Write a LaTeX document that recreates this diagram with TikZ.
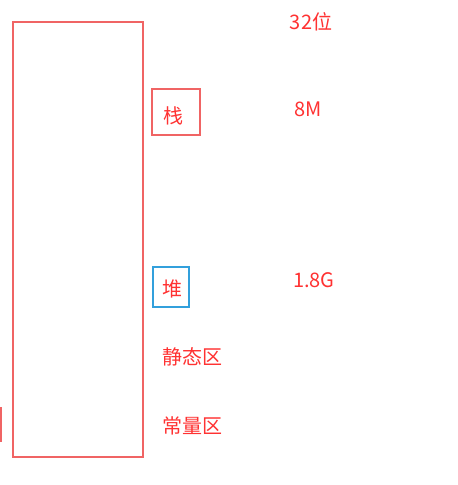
\documentclass[tikz,border=0pt]{standalone}
\usepackage{fontspec}
\setmainfont{Noto Sans CJK SC}
\definecolor{txtred}{RGB}{255,50,50}
\definecolor{boxred}{RGB}{240,100,100}
\definecolor{boxblue}{RGB}{50,160,220}
\begin{document}
\begin{tikzpicture}[x=0.75pt,y=-0.75pt,
  lbl/.style={text=txtred,font=\fontsize{15pt}{17pt}\selectfont,inner sep=0pt,anchor=center},
  redframe/.style={draw=boxred,line width=0.8pt,inner sep=0pt},
  blueframe/.style={draw=boxblue,line width=0.8pt,inner sep=0pt},
]
\useasboundingbox (0,0) rectangle (457,485);
\fill[white] (0,0) rectangle (457,485);
% memory column
\node[redframe,minimum width=97.5pt,minimum height=326.25pt] (mem) at (78,239.5) {};
% partial box at the left edge
\begin{scope}
\clip (0,0) rectangle (457,485);
\node[redframe,minimum width=15pt,minimum height=24.75pt] (side) at (-9,424.5) {};
\end{scope}
% stack
\node[redframe,minimum width=36pt,minimum height=34.5pt] (stackbox) at (176,112) {};
\node[lbl] (stack) at (173,116) {栈};
% heap
\node[blueframe,minimum width=27pt,minimum height=30pt] (heapbox) at (171,287) {};
\node[lbl] (heap) at (172,289) {堆};
\node[lbl] (static) at (192.5,357) {静态区};
\node[lbl] (const) at (192.5,426) {常量区};
% sizes
\node[lbl] (bits) at (311,22) {32位};
\node[lbl] (eightm) at (308,109) {8M};
\node[lbl] (onepoint) at (314,280) {1.8G};
\end{tikzpicture}
\end{document}
